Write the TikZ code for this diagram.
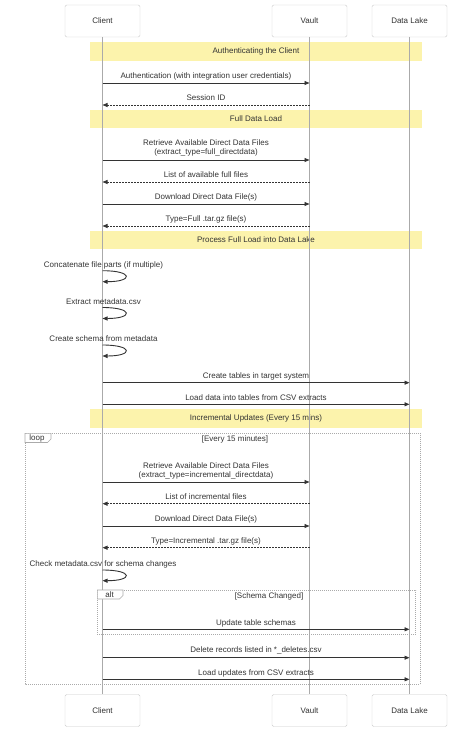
\documentclass[tikz,border=0pt]{standalone}
\usepackage{fontspec}
\setmainfont{Liberation Sans}
\usepackage{tikz}
\usetikzlibrary{arrows.meta, positioning}
\definecolor{notefill}{HTML}{FCF3AC}
\definecolor{actorline}{HTML}{CCCCCC}
\definecolor{lifecol}{HTML}{AAAAAA}
\definecolor{msgcol}{HTML}{333333}
\definecolor{framecol}{HTML}{AAAAAA}
\tikzstyle{actor} = [draw=actorline, fill=white, rounded corners=1.5pt, minimum width=75pt, minimum height=32pt, inner sep=0pt, text=msgcol, font=\fontsize{8}{9}\selectfont]
\tikzstyle{note} = [fill=notefill, minimum width=332pt, inner sep=0pt, text=msgcol, font=\fontsize{8}{9}\selectfont]
\tikzstyle{msg} = [draw=msgcol, line width=0.9pt, -{Triangle[length=5pt, width=4pt]}]
\tikzstyle{reply} = [msg, dash pattern=on 1.5pt off 1.5pt]
\tikzstyle{lbl} = [anchor=base, inner sep=0pt, text=msgcol, font=\fontsize{8}{9}\selectfont, align=center]
\tikzstyle{lifeline} = [draw=lifecol, line width=0.8pt]
\tikzstyle{frame} = [draw=framecol, line width=0.6pt, dash pattern=on 1pt off 1pt]
\tikzstyle{tag} = [draw=framecol, line width=0.6pt, fill=white]

\begin{document}
\begin{tikzpicture}[x=1pt, y=-1pt]
	\useasboundingbox (0, 0) rectangle (474, 735);

	\node (ClientTop) [actor] at (102.5, 21) {Client};
	\node (VaultTop) [actor] at (309.5, 21) {Vault};
	\node (LakeTop) [actor] at (409.5, 21) {Data Lake};

	\node (ClientBot) [actor] at (102.5, 710.5) {Client};
	\node (VaultBot) [actor] at (309.5, 710.5) {Vault};
	\node (LakeBot) [actor] at (409.5, 710.5) {Data Lake};

	\node (NoteAuth) [note, minimum height=19pt] at (256, 51.5) {Authenticating the Client};
	\node (NoteFull) [note, minimum height=18pt] at (256, 119) {Full Data Load};
	\node (NoteProc) [note, minimum height=18pt] at (256, 240) {Process Full Load into Data Lake};
	\node (NoteIncr) [note, minimum height=19pt] at (256, 418.5) {Incremental Updates (Every 15 mins)};

	\draw [lifeline] (ClientTop) -- (ClientBot);
	\draw [lifeline] (VaultTop) -- (VaultBot);
	\draw [lifeline] (LakeTop) -- (LakeBot);

	% frames
	\draw [frame] (25, 433.3) rectangle (420, 684.3);
	\draw [tag] (25, 433.3) -- (51, 433.3) -- (51, 439) -- (47.5, 442.5) -- (25, 442.5) -- cycle;
	\node (LoopTag) [lbl] at (37, 440.8) {loop};
	\node (LoopCond) [lbl] at (235, 441.8) {[Every 15 minutes]};

	\draw [frame] (97.3, 590) rectangle (415.7, 634.3);
	\draw [tag] (97.3, 590) -- (123, 590) -- (123, 595.5) -- (119.5, 599) -- (97.3, 599) -- cycle;
	\node (AltTag) [lbl] at (109.5, 597.3) {alt};
	\node (AltCond) [lbl] at (269, 598.8) {[Schema Changed]};

	% authentication
	\coordinate (AuthC) at (102.5, 83);
	\coordinate (AuthV) at (309.5, 83);
	\draw [msg] (AuthC) -- (AuthV);
	\node (AuthText) [lbl] at (206, 78.8) {Authentication (with integration user credentials)};

	\coordinate (SessV) at (309.5, 105);
	\coordinate (SessC) at (102.5, 105);
	\draw [reply] (SessV) -- (SessC);
	\node (SessText) [lbl] at (206, 100.8) {Session ID};

	% full load
	\coordinate (FullReqC) at (102.5, 160);
	\coordinate (FullReqV) at (309.5, 160);
	\draw [msg] (FullReqC) -- (FullReqV);
	\node (FullReqText) [lbl] at (206, 154.8) {Retrieve Available Direct Data Files\\(extract\_type=full\_directdata)};

	\coordinate (FullListV) at (309.5, 182);
	\coordinate (FullListC) at (102.5, 182);
	\draw [reply] (FullListV) -- (FullListC);
	\node (FullListText) [lbl] at (206, 177.8) {List of available full files};

	\coordinate (FullDlC) at (102.5, 204);
	\coordinate (FullDlV) at (309.5, 204);
	\draw [msg] (FullDlC) -- (FullDlV);
	\node (FullDlText) [lbl] at (206, 199.8) {Download Direct Data File(s)};

	\coordinate (FullFileV) at (309.5, 226);
	\coordinate (FullFileC) at (102.5, 226);
	\draw [reply] (FullFileV) -- (FullFileC);
	\node (FullFileText) [lbl] at (206, 221.8) {Type=Full .tar.gz file(s)};

	% processing in the client
	\coordinate (CatA) at (102.5, 270.7);
	\coordinate (CatB) at (102.5, 281.7);
	\draw [msg] (CatA) .. controls (133.5, 270.7) and (133.5, 281.7) .. (CatB);
	\node (CatText) [lbl] at (103.5, 267.1) {Concatenate file parts (if multiple)};

	\coordinate (MetaA) at (102.5, 307.5);
	\coordinate (MetaB) at (102.5, 318.5);
	\draw [msg] (MetaA) .. controls (133.5, 307.5) and (133.5, 318.5) .. (MetaB);
	\node (MetaText) [lbl] at (103.5, 304.5) {Extract metadata.csv};

	\coordinate (SchemaA) at (102.5, 345);
	\coordinate (SchemaB) at (102.5, 356);
	\draw [msg] (SchemaA) .. controls (133.5, 345) and (133.5, 356) .. (SchemaB);
	\node (SchemaText) [lbl] at (103.5, 341.5) {Create schema from metadata};

	\coordinate (TablesC) at (102.5, 382.7);
	\coordinate (TablesL) at (409.5, 382.7);
	\draw [msg] (TablesC) -- (TablesL);
	\node (TablesText) [lbl] at (256, 378.5) {Create tables in target system};

	\coordinate (LoadC) at (102.5, 404.3);
	\coordinate (LoadL) at (409.5, 404.3);
	\draw [msg] (LoadC) -- (LoadL);
	\node (LoadText) [lbl] at (256, 400.1) {Load data into tables from CSV extracts};

	% incremental updates
	\coordinate (IncReqC) at (102.5, 482);
	\coordinate (IncReqV) at (309.5, 482);
	\draw [msg] (IncReqC) -- (IncReqV);
	\node (IncReqText) [lbl] at (206, 477.1) {Retrieve Available Direct Data Files\\(extract\_type=incremental\_directdata)};

	\coordinate (IncListV) at (309.5, 503.7);
	\coordinate (IncListC) at (102.5, 503.7);
	\draw [reply] (IncListV) -- (IncListC);
	\node (IncListText) [lbl] at (206, 499.5) {List of incremental files};

	\coordinate (IncDlC) at (102.5, 526);
	\coordinate (IncDlV) at (309.5, 526);
	\draw [msg] (IncDlC) -- (IncDlV);
	\node (IncDlText) [lbl] at (206, 521.5) {Download Direct Data File(s)};

	\coordinate (IncFileV) at (309.5, 547.7);
	\coordinate (IncFileC) at (102.5, 547.7);
	\draw [reply] (IncFileV) -- (IncFileC);
	\node (IncFileText) [lbl] at (206, 543.5) {Type=Incremental .tar.gz file(s)};

	\coordinate (CheckA) at (102.5, 570);
	\coordinate (CheckB) at (102.5, 580.7);
	\draw [msg] (CheckA) .. controls (133.5, 570) and (133.5, 580.7) .. (CheckB);
	\node (CheckText) [lbl] at (103, 566.1) {Check metadata.csv for schema changes};

	\coordinate (UpdC) at (102.5, 629.3);
	\coordinate (UpdL) at (409.5, 629.3);
	\draw [msg] (UpdC) -- (UpdL);
	\node (UpdText) [lbl] at (256, 625.1) {Update table schemas};

	\coordinate (DelC) at (102.5, 657.7);
	\coordinate (DelL) at (409.5, 657.7);
	\draw [msg] (DelC) -- (DelL);
	\node (DelText) [lbl] at (256, 652.8) {Delete records listed in *\_deletes.csv};

	\coordinate (UpsC) at (102.5, 679.3);
	\coordinate (UpsL) at (409.5, 679.3);
	\draw [msg] (UpsC) -- (UpsL);
	\node (UpsText) [lbl] at (256, 675.1) {Load updates from CSV extracts};

\end{tikzpicture}
\end{document}
